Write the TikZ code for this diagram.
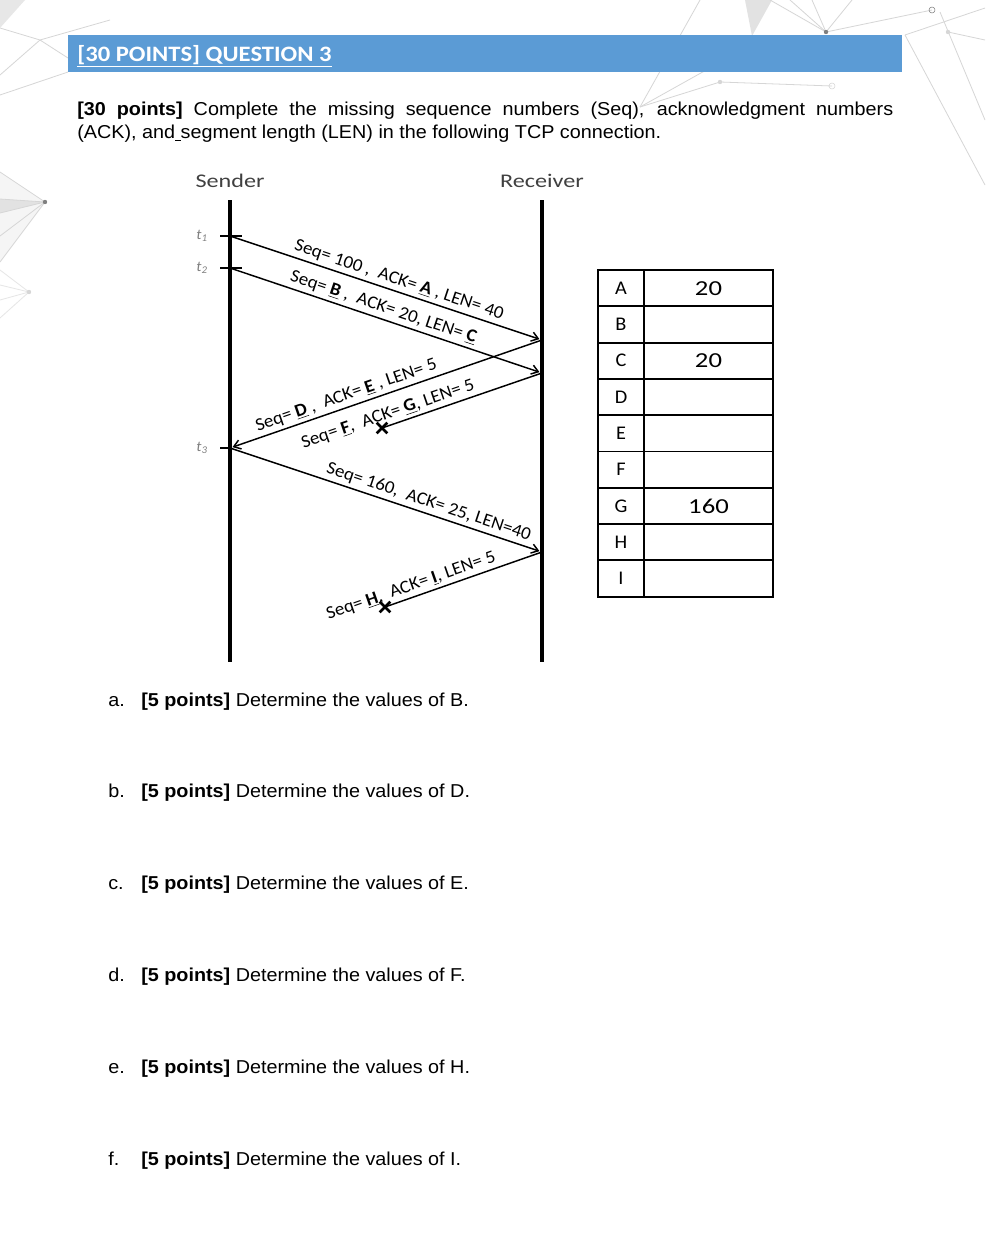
\documentclass[tikz,border=0pt]{standalone}
\usepackage{fontspec}
\setmainfont{Liberation Sans}[FakeStretch=1.06]
\newfontfamily\diagfont{Carlito}[FakeStretch=1.25]
\newfontfamily\seqfont{Carlito}[FakeStretch=1.05]
\newfontfamily\headfont{Carlito}[FakeStretch=1.12]
\usetikzlibrary{arrows.meta,shapes.misc,positioning}
\definecolor{headblue}{HTML}{5B9BD5}
\definecolor{labelgray}{HTML}{404040}
\definecolor{netgray}{HTML}{D6D6D6}

\begin{document}
\begin{tikzpicture}[
    x=0.75pt, y=-0.75pt,
    headbar/.style={fill=headblue, minimum width=625.5pt, minimum height=27.75pt, inner sep=0pt},
    headtext/.style={text=white, inner sep=0pt, font=\headfont\bfseries\fontsize{16.5pt}{20pt}\selectfont},
    actor/.style={text=labelgray, font=\diagfont\fontsize{14.5pt}{16pt}\selectfont},
    lifeline/.style={line width=3.6pt},
    tick/.style={line width=2.2pt},
    tlabel/.style={text=gray, font=\seqfont\itshape\fontsize{11pt}{12pt}\selectfont},
    msg/.style={line width=1.1pt, -{Straight Barb[length=5pt, width=7pt]}, shorten >=2pt},
    lostmsg/.style={line width=1.1pt},
    seqlabel/.style={sloped, above=1.5pt, inner sep=1pt, font=\seqfont\fontsize{13.5pt}{15pt}\selectfont},
    lost/.style={cross out, draw, line width=2pt, minimum size=6pt, inner sep=0pt},
    keycell/.style={draw, line width=1.4pt, minimum width=34.5pt, minimum height=27.2pt, inner sep=0pt, font=\seqfont\fontsize{14.5pt}{16pt}\selectfont},
    valcell/.style={draw, line width=1.4pt, minimum width=96.75pt, minimum height=27.2pt, inner sep=0pt, font=\diagfont\fontsize{16pt}{18pt}\selectfont},
    question/.style={anchor=base west, inner sep=0pt, font=\fontsize{14pt}{17pt}\selectfont},
    net/.style={draw=netgray, line width=0.6pt},
    faintnet/.style={draw=netgray!60, line width=0.6pt},
]
\useasboundingbox (0,0) rectangle (985,1249);
\fill[white] (0,0) rectangle (985,1249);

% background network
\fill[netgray!60] (0,0) -- (25,0) -- (0,28) -- cycle;
\draw[net] (0,28) -- (40,40) -- (110,20);
\draw[net] (40,40) -- (0,75);
\draw[net] (40,40) -- (68,58);
\draw[net] (0,95) -- (68,72);
\fill[netgray!25] (45,202) -- (0,172) -- (0,262) -- cycle;
\fill[netgray!70] (45,202) -- (0,199) -- (0,213) -- cycle;
\foreach \yy in {172,199,213,236,262} \draw[net] (45,202) -- (0,\yy);
\fill[gray] (45,202) circle (2.2);
\foreach \yy in {270,285,300,318} \draw[faintnet] (29,292) -- (0,\yy);
\fill[netgray] (29,292) circle (2.2);
\fill[netgray!70] (745,0) -- (772,0) -- (752,36) -- cycle;
\draw[net] (826,32) -- (932,10);
\foreach \xx in {770,790,812,852} \draw[net] (826,32) -- (\xx,0);
\draw[net] (640,107) -- (720,82) -- (832,86);
\draw[net] (640,107) -- (760,40);
\draw[net] (640,107) -- (700,0);
\draw[net] (905,35) -- (985,185);
\draw[net] (940,12) -- (985,120);
\draw[net] (905,35) -- (985,8);
\draw[net] (948,32) -- (985,40);
\fill[gray] (826,32) circle (2.2);
\draw[gray] (932,10) circle (3);
\fill[netgray] (948,32) circle (2.2);
\draw[netgray] (832,86) circle (3);
\fill[netgray] (720,82) circle (2.2);

% header
\node[headbar] (header) at (485,53.5) {};
\node[headtext, anchor=base west] (headtitle) at (77,61) {\underline{[30 POINTS] QUESTION 3}};

\node[anchor=north west, inner sep=0pt, text width=612pt, align=justify,
      font=\fontsize{14pt}{17.25pt}\selectfont] (intro) at (77,102)
  {\textbf{[30 points]} Complete the missing sequence numbers (Seq), acknowledgment numbers\linebreak (ACK), and\underline{\ }segment length (LEN) in the following TCP connection.};

% actors
\node[actor] (sender) at (230,181) {Sender};
\node[actor] (receiver) at (542,181) {Receiver};

\coordinate (stop) at (230,200);
\coordinate (sbot) at (230,662);
\coordinate (rtop) at (542,200);
\coordinate (rbot) at (542,662);
\draw[lifeline] (stop) -- (sbot);
\draw[lifeline] (rtop) -- (rbot);

\coordinate (t1) at (230,236);
\coordinate (t2) at (230,268);
\coordinate (t3) at (230,448);
\coordinate (r1) at (542,340);
\coordinate (r2) at (542,373);
\coordinate (r3) at (542,552);

\draw[tick] (t1) ++(-10,0) -- ++(22,0);
\draw[tick] (t2) ++(-10,0) -- ++(22,0);
\draw[tick] (t3) ++(-10,0) -- ++(10,0);
\node[tlabel] (lt1) at (202,236) {t\textsubscript{1}};
\node[tlabel] (lt2) at (202,268) {t\textsubscript{2}};
\node[tlabel] (lt3) at (202,448) {t\textsubscript{3}};

\node[lost] (x1) at (382,428) {};
\node[lost] (x2) at (385,607) {};

% segments
\draw[msg] (t1) -- (r1) node[seqlabel, pos=0.53] {Seq= 100 ,\ \ ACK= \underline{\textbf{A}} , LEN= 40};
\draw[msg] (t2) -- (r2) node[seqlabel, pos=0.48] {Seq= \underline{\textbf{B}} ,\ \ ACK= 20, LEN= \underline{\textbf{C}}};
\draw[msg] (r1) -- (t3) node[seqlabel, pos=0.615] {Seq= \underline{\textbf{D}} ,\ \ ACK= \underline{\textbf{E}} , LEN= 5};
\draw[lostmsg] (r2) -- (x1.center);
\path (r2) -- (x1.center) node[seqlabel, pos=0.94] {Seq= \underline{\textbf{F}},\ \ ACK= \underline{\textbf{G}}, LEN= 5};
\draw[msg] (t3) -- (r3) node[seqlabel, pos=0.625] {Seq= 160,\ \ ACK= 25, LEN=40};
\draw[lostmsg] (r3) -- (x2.center);
\path (r3) -- (x2.center) node[seqlabel, pos=0.81] {Seq= \underline{\textbf{H}},\ \ ACK= \underline{\textbf{I}}, LEN= 5};

% table
\foreach \ltr/\val [count=\i] in {A/20,B/,C/20,D/,E/,F/,G/160,H/,I/} {
  \node[keycell] (key\ltr) at (621, {270+36.3*(\i-0.5)}) {\ltr};
  \node[valcell] (val\ltr) at (708.5, {270+36.3*(\i-0.5)}) {\val};
}

% questions
\foreach \q/\ltr [count=\i] in {a/B,b/D,c/E,d/F,e/H,f/I} {
  \node[question] (q\q) at (108, {706+91.8*(\i-1)}) {\q.};
  \node[question] (qtext\q) at (141, {706+91.8*(\i-1)}) {\textbf{[5 points]} Determine the values of \ltr.};
}

\end{tikzpicture}
\end{document}
